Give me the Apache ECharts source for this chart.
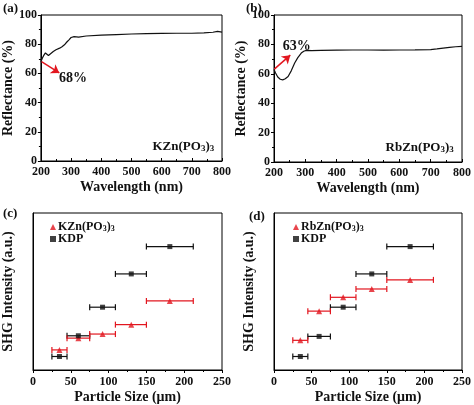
<!DOCTYPE html>
<html>
<head>
<meta charset="utf-8">
<script src="https://cdn.jsdelivr.net/npm/echarts@6/dist/echarts.min.js"></script>
<style>
  html, body { margin: 0; padding: 0; background: #fff; }
  #main { width: 474px; height: 405px; }
</style>
</head>
<body>
<div id="main"></div>
<script>
// reflectance spectra (a) KZn(PO3)3, (b) RbZn(PO3)3
var waveA = [200, 205, 210, 215, 220, 225, 230, 241, 250, 262, 270, 278, 286, 293, 300, 304, 310, 325, 350, 400, 450, 500, 550, 600, 650, 700, 740, 770, 785, 790, 800];
var reflA = [68, 70.5, 72.5, 74, 73.2, 72.3, 72.6, 75, 76.2, 77.3, 78.3, 79.6, 81.5, 83, 84.6, 85.3, 85.2, 84.9, 85.6, 86.2, 86.6, 87, 87.2, 87.4, 87.5, 87.5, 87.7, 88.2, 88.8, 89, 88.3];
var waveB = [200, 205, 212, 220, 228, 236, 245, 255, 266, 276, 287, 295, 303, 320, 350, 400, 450, 500, 550, 600, 650, 700, 720, 740, 760, 780, 800];
var reflB = [63, 60.5, 57.8, 56.3, 55.9, 56.6, 58.2, 62, 67.3, 71, 74.1, 75.3, 75.9, 75.8, 76, 76.1, 76.2, 76.2, 76.1, 76.2, 76.3, 76.5, 76.9, 77.5, 78, 78.4, 78.6];

// SHG vs particle size (c), (d)
var sizeMid = [35, 60, 92, 130, 181];
var sizeLo = [25, 45, 75, 109, 150];
var sizeHi = [45, 75, 109, 150, 212];
var kdpC = [8.6, 21.8, 40.0, 61.2, 78.6];
var kznC = [12.8, 20.3, 22.9, 28.9, 44.0];
var kdpD = [8.6, 21.4, 40.0, 61.2, 78.6];
var rbznD = [18.9, 37.5, 46.3, 51.6, 57.4];

var RED = '#e2161f';
var FONT = 'Liberation Serif';
var nameKZn = 'KZn(PO3)3';
var nameRbZn = 'RbZn(PO3)3';

function pairs(xs, ys) { return xs.map(function (x, i) { return [x, ys[i]]; }); }
function bars(ys) { return ys.map(function (y, i) { return [sizeLo[i], sizeHi[i], y]; }); }

function serif(size) {
  return { fontFamily: FONT, fontWeight: 'bold', fontSize: size, color: '#111' };
}
var tickRich = { t: serif(12) };
var nameRich = { t: serif(14) };
function tickFmt(v) { return '{t|' + v + '}'; }
function richFor(size) {
  var n = serif(size); n.lineHeight = size - 2;
  var s = serif(size - 4); s.padding = [4, 0, 0, 0]; s.lineHeight = size - 2;
  return { n: n, s: s };
}
function chem(name) {
  return name === 'KDP' ? '{n|KDP}' : '{n|' + name.replace('(PO3)3', '(PO') + '}{s|3}{n|)}{s|3}';
}

function xAxisWave(gi) {
  return {
    gridIndex: gi, type: 'value', min: 200, max: 800, interval: 100,
    name: '{t|Wavelength (nm)}', nameLocation: 'middle', nameGap: 19,
    nameTextStyle: { rich: nameRich },
    axisLine: { lineStyle: { color: '#000' } },
    axisTick: { inside: true, length: 3, lineStyle: { color: '#000' } },
    minorTick: { show: true, splitNumber: 2, length: 2, lineStyle: { color: '#000' } },
    axisLabel: { margin: 5, formatter: tickFmt, rich: tickRich },
    splitLine: { show: false }
  };
}
function yAxisRefl(gi) {
  return {
    gridIndex: gi, type: 'value', min: 0, max: 100, interval: 20,
    name: '{t|Reflectance (%)}', nameLocation: 'middle', nameGap: 22,
    nameTextStyle: { rich: nameRich },
    axisLine: { show: true, lineStyle: { color: '#000' } },
    axisTick: { show: true, length: 3, lineStyle: { color: '#000' } },
    minorTick: { show: true, splitNumber: 2, length: 2, lineStyle: { color: '#000' } },
    axisLabel: { margin: 4, formatter: tickFmt, rich: tickRich },
    splitLine: { show: false }
  };
}
function xAxisSize(gi) {
  return {
    gridIndex: gi, type: 'value', min: 0, max: 250, interval: 50,
    name: '{t|Particle Size (\u03bcm)}', nameLocation: 'middle', nameGap: 20,
    nameTextStyle: { rich: nameRich },
    axisLine: { lineStyle: { color: '#000' } },
    axisTick: { length: 3, lineStyle: { color: '#000' } },
    minorTick: { show: true, splitNumber: 2, length: 2, lineStyle: { color: '#000' } },
    axisLabel: { margin: 6, formatter: tickFmt, rich: tickRich },
    splitLine: { show: false }
  };
}
function yAxisShg(gi) {
  return {
    gridIndex: gi, type: 'value', min: 0, max: 100,
    name: '{t|SHG Intensity (a.u.)}', nameLocation: 'middle', nameGap: 18,
    nameTextStyle: { rich: nameRich },
    axisLine: { show: true, lineStyle: { color: '#000' } },
    axisTick: { show: false }, axisLabel: { show: false }, splitLine: { show: false }
  };
}

function errSeries(gi, ys, color) {
  return {
    type: 'custom', xAxisIndex: gi, yAxisIndex: gi, silent: true, z: 1,
    data: bars(ys),
    encode: { x: [0, 1], y: 2 },
    renderItem: function (params, api) {
      var a = api.coord([api.value(0), api.value(2)]);
      var b = api.coord([api.value(1), api.value(2)]);
      var st = { stroke: color, lineWidth: 1.2 };
      return {
        type: 'group',
        children: [
          { type: 'line', shape: { x1: a[0], y1: a[1], x2: b[0], y2: b[1] }, style: st },
          { type: 'line', shape: { x1: a[0], y1: a[1] - 3, x2: a[0], y2: a[1] + 3 }, style: st },
          { type: 'line', shape: { x1: b[0], y1: b[1] - 3, x2: b[0], y2: b[1] + 3 }, style: st }
        ]
      };
    }
  };
}
function ptSeries(gi, name, ys, symbol, color, size) {
  return {
    type: 'scatter', name: name, xAxisIndex: gi, yAxisIndex: gi, z: 3,
    symbol: symbol, symbolSize: size, itemStyle: { color: color },
    data: pairs(sizeMid, ys)
  };
}
function arrowMark(from, to, label, labelAt) {
  return {
    markLine: {
      silent: true, symbol: ['none', 'arrow'], symbolSize: 8,
      lineStyle: { color: RED, width: 1.5, type: 'solid' }, label: { show: false },
      data: [[{ coord: from }, { coord: to }]]
    },
    markPoint: {
      silent: true, symbol: 'circle', symbolSize: 0,
      label: Object.assign({ show: true, formatter: label }, serif(14)),
      data: [{ coord: labelAt }]
    }
  };
}
function sampleMark(name, at) {
  return {
    silent: true, symbol: 'circle', symbolSize: 0,
    label: { show: true, formatter: chem(name), rich: richFor(13) },
    data: [{ coord: at }]
  };
}

var chart = echarts.init(document.getElementById('main'));

var lineA = Object.assign({
  type: 'line', xAxisIndex: 0, yAxisIndex: 0, data: pairs(waveA, reflA),
  showSymbol: false, lineStyle: { color: '#111', width: 1.2 }, itemStyle: { color: '#111' }
}, arrowMark([202, 68], [261, 60.3], '68%', [306, 56.5]));
var lineB = Object.assign({
  type: 'line', xAxisIndex: 1, yAxisIndex: 1, data: pairs(waveB, reflB),
  showSymbol: false, lineStyle: { color: '#111', width: 1.2 }, itemStyle: { color: '#111' }
}, arrowMark([201, 63.2], [252, 72.7], '63%', [273, 78.8]));

var sampA = { type: 'scatter', xAxisIndex: 0, yAxisIndex: 0, data: [], markPoint: sampleMark(nameKZn, [672, 10]) };
var sampB = { type: 'scatter', xAxisIndex: 1, yAxisIndex: 1, data: [], markPoint: sampleMark(nameRbZn, [665, 10]) };

var legendBase = {
  orient: 'vertical', itemWidth: 6, itemHeight: 6, itemGap: 0,
  formatter: chem, textStyle: { rich: richFor(12), padding: [0, 0, 0, -3] }
};

chart.setOption({
  animation: false,
  backgroundColor: '#fff',
  textStyle: { fontFamily: FONT },
  title: [
    { text: '(a)', left: -2, top: -3 },
    { text: '(b)', left: 241, top: -3 },
    { text: '(c)', left: -2, top: 202 },
    { text: '(d)', left: 244, top: 205 }
  ].map(function (t) {
    t.textStyle = serif(13);
    return t;
  }),
  grid: [
    { left: 32, top: 15, width: 190, height: 146 },
    { left: 274, top: 15, width: 192, height: 147 },
    { left: 31, top: 213, width: 191, height: 159 },
    { left: 274, top: 213, width: 192, height: 159 }
  ].map(function (g) {
    g.show = true; g.borderColor = '#000'; g.borderWidth = 1; g.backgroundColor = 'transparent';
    return g;
  }),
  xAxis: [xAxisWave(0), xAxisWave(1), xAxisSize(2), xAxisSize(3)],
  yAxis: [yAxisRefl(0), yAxisRefl(1), yAxisShg(2), yAxisShg(3)],
  legend: [
    Object.assign({ left: 45, top: 216, data: [nameKZn, 'KDP'] }, legendBase),
    Object.assign({ left: 288, top: 216, data: [nameRbZn, 'KDP'] }, legendBase)
  ],
  series: [
    lineA, lineB, sampA, sampB,
    errSeries(2, kdpC, '#111'), errSeries(2, kznC, RED),
    ptSeries(2, nameKZn, kznC, 'triangle', RED, 6),
    ptSeries(2, 'KDP', kdpC, 'rect', '#111', 5),
    errSeries(3, kdpD, '#111'), errSeries(3, rbznD, RED),
    ptSeries(3, nameRbZn, rbznD, 'triangle', RED, 6),
    ptSeries(3, 'KDP', kdpD, 'rect', '#111', 5)
  ]
});
</script>
</body>
</html>
